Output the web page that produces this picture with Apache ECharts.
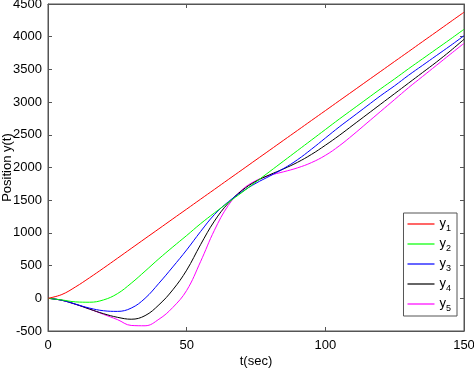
<!DOCTYPE html>
<html>
<head>
<meta charset="utf-8">
<script src="https://cdn.jsdelivr.net/npm/echarts@6/dist/echarts.min.js"></script>
<style>
html,body{margin:0;padding:0;background:#fff;}
#chart{width:474px;height:370px;}
</style>
</head>
<body>
<div id="chart"></div>
<script>
var tValues = [0,5,10,15,20,25,30,35,40,45,50,55,60,65,70,75,80,85,90,95,100,105,110,115,120,125,130,135,140,145,150];
var y1Values = [0,58,176,315,461,611,762,913,1063,1214,1364,1515,1665,1816,1966,2117,2267,2418,2568,2719,2869,3020,3170,3321,3471,3622,3772,3923,4073,4224,4374];
var y2Values = [0,-25,-55,-60,-25,70,230,415,605,785,960,1140,1305,1465,1620,1780,1940,2100,2260,2420,2580,2740,2895,3050,3205,3355,3510,3660,3810,3960,4113];
var y3Values = [0,-30,-90,-150,-190,-200,-150,0,230,480,740,1020,1280,1475,1630,1760,1870,1985,2120,2280,2450,2620,2780,2940,3100,3250,3410,3560,3710,3860,4015];
var y4Values = [0,-30,-92,-165,-235,-290,-320,-265,-100,130,430,820,1180,1455,1650,1790,1890,1980,2080,2200,2340,2490,2650,2810,2970,3130,3290,3450,3610,3780,3960];
var y5Values = [0,-30,-92,-165,-245,-325,-415,-420,-320,-140,120,560,1040,1420,1660,1800,1880,1935,1995,2075,2185,2330,2500,2680,2860,3040,3220,3390,3560,3730,3899];
var seriesNames = ['1','2','3','4','5'];
var seriesColors = ['#ff0000','#00ff00','#0000ff','#000000','#ff00ff'];
var xTicks = [0,50,100,150];
var yTicks = [-500,0,500,1000,1500,2000,2500,3000,3500,4000,4500];

var allY = [y1Values,y2Values,y3Values,y4Values,y5Values];
function pairs(ys){ return tValues.map(function(t,i){ return [t, ys[i]]; }); }

var font = 'Liberation Sans, Arial, Helvetica, sans-serif';
var chart = echarts.init(document.getElementById('chart'), null, {renderer:'canvas'});
var series = allY.map(function(ys, k){
  return {
    name: 'y' + seriesNames[k],
    type: 'line',
    data: pairs(ys),
    smooth: 0.4,
    symbol: 'none',
    lineStyle: {color: seriesColors[k], width: 1},
    itemStyle: {color: seriesColors[k]},
    z: 10 - k
  };
});
var axisColor = '#555';
chart.setOption({
  animation: false,
  backgroundColor: '#fff',
  grid: {left: 48, right: 10, top: 4, bottom: 39, containLabel: false, outerBoundsMode: 'none',
         show: true, borderColor: axisColor, borderWidth: 1, backgroundColor: 'transparent'},
  legend: {
    orient: 'vertical',
    right: 17, top: 213,
    data: seriesNames.map(function(s){ return 'y' + s; }),
    formatter: function(name){ return '{a|y}{b|' + name.slice(1) + '}'; },
    icon: 'rect',
    itemWidth: 27, itemHeight: 1.2, itemGap: 4,
    borderColor: '#555', borderWidth: 1, backgroundColor: '#fff',
    padding: [4, 6, 3, 4],
    textStyle: {
      fontFamily: font, fontSize: 13, color: '#000',
      rich: {
        a: {fontFamily: font, fontSize: 13, lineHeight: 14, color: '#000', verticalAlign: 'top'},
        b: {fontFamily: font, fontSize: 9, lineHeight: 9, color: '#000', verticalAlign: 'top', padding: [7,0,0,0]}
      }
    }
  },
  xAxis: [{
    type: 'value', min: 0, max: 150, interval: 50,
    name: 't(sec)', nameLocation: 'middle', nameGap: 24, nameMoveOverlap: false,
    nameTextStyle: {fontFamily: font, fontSize: 13, color: '#000'},
    axisLine: {show: true, onZero: false, lineStyle: {color: axisColor}},
    axisTick: {show: true, inside: true, length: 4, lineStyle: {color: axisColor}},
    axisLabel: {fontFamily: font, fontSize: 13, color: '#000', margin: 8,
      formatter: function(v){ return xTicks.indexOf(v) >= 0 ? String(v) : ''; }},
    splitLine: {show: false}
  },{
    type: 'value', min: 0, max: 150, interval: 50, position: 'top',
    axisLine: {show: true, onZero: false, lineStyle: {color: axisColor}},
    axisTick: {show: true, inside: true, length: 4, lineStyle: {color: axisColor}},
    axisLabel: {show: false}, splitLine: {show: false}
  }],
  yAxis: [{
    type: 'value', min: -500, max: 4500, interval: 500,
    name: 'Position y(t)', nameLocation: 'middle', nameGap: 34, nameMoveOverlap: false,
    nameTextStyle: {fontFamily: font, fontSize: 13, color: '#000'},
    axisLine: {show: true, onZero: false, lineStyle: {color: axisColor}},
    axisTick: {show: true, inside: true, length: 4, lineStyle: {color: axisColor}},
    axisLabel: {fontFamily: font, fontSize: 13, color: '#000', margin: 6,
      formatter: function(v){ return yTicks.indexOf(v) >= 0 ? String(v) : ''; }},
    splitLine: {show: false}
  },{
    type: 'value', min: -500, max: 4500, interval: 500, position: 'right',
    axisLine: {show: true, onZero: false, lineStyle: {color: axisColor}},
    axisTick: {show: true, inside: true, length: 4, lineStyle: {color: axisColor}},
    axisLabel: {show: false}, splitLine: {show: false}
  }],
  series: series
});
</script>
</body>
</html>
